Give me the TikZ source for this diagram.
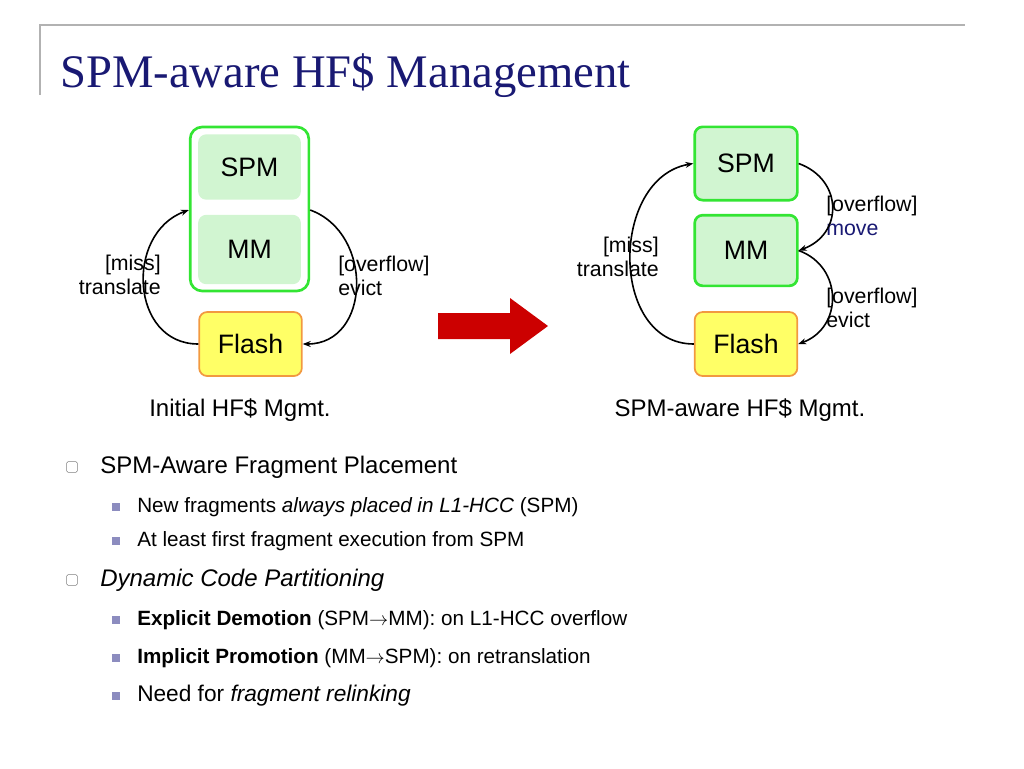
\documentclass[tikz,border=0pt]{standalone}
\usepackage{fontspec}
\setmainfont{Liberation Sans}
\newfontfamily\titlefont{Liberation Serif}
\usetikzlibrary{arrows.meta,positioning,shapes}
\definecolor{titleblue}{rgb}{.1,.1,.45}
\definecolor{boxgreen}{rgb}{.82,.96,.82}
\definecolor{edgegreen}{rgb}{.2,.9,.2}
\definecolor{flashfill}{rgb}{1,1,.4}
\definecolor{flashedge}{rgb}{.95,.6,.25}
\definecolor{bulletblue}{rgb}{.55,.55,.75}
\def\HF{HF\$}

\begin{document}
\begin{tikzpicture}[x=0.75pt,y=-0.75pt,% pixel grid
			every node/.style={align=center,inner sep=0pt},
			mem/.style={rounded corners=6pt,fill=boxgreen,minimum width=77pt,font=\fontsize{20}{24}\selectfont},
			flashbox/.style={rounded corners=6pt,draw=flashedge,line width=1.3pt,fill=flashfill,minimum width=77pt,minimum height=48pt,font=\fontsize{20}{24}\selectfont},
			lbl/.style={font=\fontsize{16}{18}\selectfont},
			flow/.style={draw,line width=1.2pt,-{Stealth[length=6pt]}},
			lvl1/.style={anchor=west,font=\fontsize{18}{20}\selectfont},
			lvl2/.style={anchor=west,font=\fontsize{15.5}{18}\selectfont}
		]
		\useasboundingbox (0,0) rectangle (1024,768);
		\draw[gray!60,line width=1pt] (40,95) -- (40,25) -- (965,25);
		\node[anchor=west,text=titleblue,font=\titlefont\fontsize{35}{40}\selectfont](title) at (60,76){SPM-aware \HF{} Management};
		% initial
		\node[draw=edgegreen,line width=2pt,rounded corners=9pt,minimum width=89pt,minimum height=123pt](outer) at (249.5,209){};
		\node[mem,minimum height=49pt](spmA) at (249.5,167){SPM};
		\node[mem,minimum height=52pt](mmA) at (249.5,249.5){MM};
		\node[flashbox](flashA) at (250.5,344){Flash};
		\node[lbl,align=right,anchor=east](missA) at (161,275){[miss]\\translate};
		\node[lbl,align=left,anchor=west](evictA) at (338,276){[overflow]\\evict};
		\node[font=\fontsize{18}{20}\selectfont](capA) at (240,410){Initial \HF{} Mgmt.};
		\path[flow] (flashA.west) to[out=180,in=200,looseness=1.3] (outer.west |- 0,210);
		\path[flow] (outer.east |- 0,210) to[out=-20,in=0,looseness=1.3] (flashA.east);
		% arrow
		\fill[red!80!black] (438,313) -- (510,313) -- (510,298) -- (548,326) -- (510,354) -- (510,339) -- (438,339) -- cycle;
		% spm-aware
		\node[mem,draw=edgegreen,line width=2pt,minimum height=55pt](spmB) at (746,163.5){SPM};
		\node[mem,draw=edgegreen,line width=2pt,minimum height=53pt](mmB) at (746,250.5){MM};
		\node[flashbox](flashB) at (746,344){Flash};
		\node[lbl,align=right,anchor=east](missB) at (659,257){[miss]\\translate};
		\node[lbl,align=left,anchor=west](moveB) at (826,216){[overflow]\\\textcolor{titleblue}{move}};
		\node[lbl,align=left,anchor=west](evictB) at (826,308){[overflow]\\evict};
		\node[font=\fontsize{18}{20}\selectfont](capB) at (740,410){SPM-aware \HF{} Mgmt.};
		\path[flow] (flashB.west) to[out=180,in=190,looseness=1.2] (spmB.west);
		\path[flow] (spmB.east) to[out=-20,in=20,looseness=1.4] (mmB.east);
		\path[flow] (mmB.east) to[out=-20,in=20,looseness=1.3] (flashB.east);
		% bullets
		\node[draw=gray,minimum size=8pt,rounded corners=1pt](b1) at (72,467){};
		\node[lvl1](t1) at (100,467){SPM-Aware Fragment Placement};
		\node[fill=bulletblue,minimum size=6pt](s1) at (116,507){};
		\node[lvl2](u1) at (137,507){New fragments \textit{always placed in L1-HCC} (SPM)};
		\node[fill=bulletblue,minimum size=6pt](s2) at (116,541){};
		\node[lvl2](u2) at (137,541){At least first fragment execution from SPM};
		\node[draw=gray,minimum size=8pt,rounded corners=1pt](b2) at (72,580){};
		\node[lvl1](t2) at (100,580){\textit{Dynamic Code Partitioning}};
		\node[fill=bulletblue,minimum size=6pt](s3) at (116,620){};
		\node[lvl2](u3) at (137,620){\textbf{Explicit Demotion} (SPM$\rightarrow$MM): on L1-HCC overflow};
		\node[fill=bulletblue,minimum size=6pt](s4) at (116,658){};
		\node[lvl2](u4) at (137,658){\textbf{Implicit Promotion} (MM$\rightarrow$SPM): on retranslation};
		\node[fill=bulletblue,minimum size=6pt](s5) at (116,696){};
		\node[lvl1,font=\fontsize{17}{20}\selectfont](u5) at (137,696){Need for \textit{fragment relinking}};
	\end{tikzpicture}
\end{document}
